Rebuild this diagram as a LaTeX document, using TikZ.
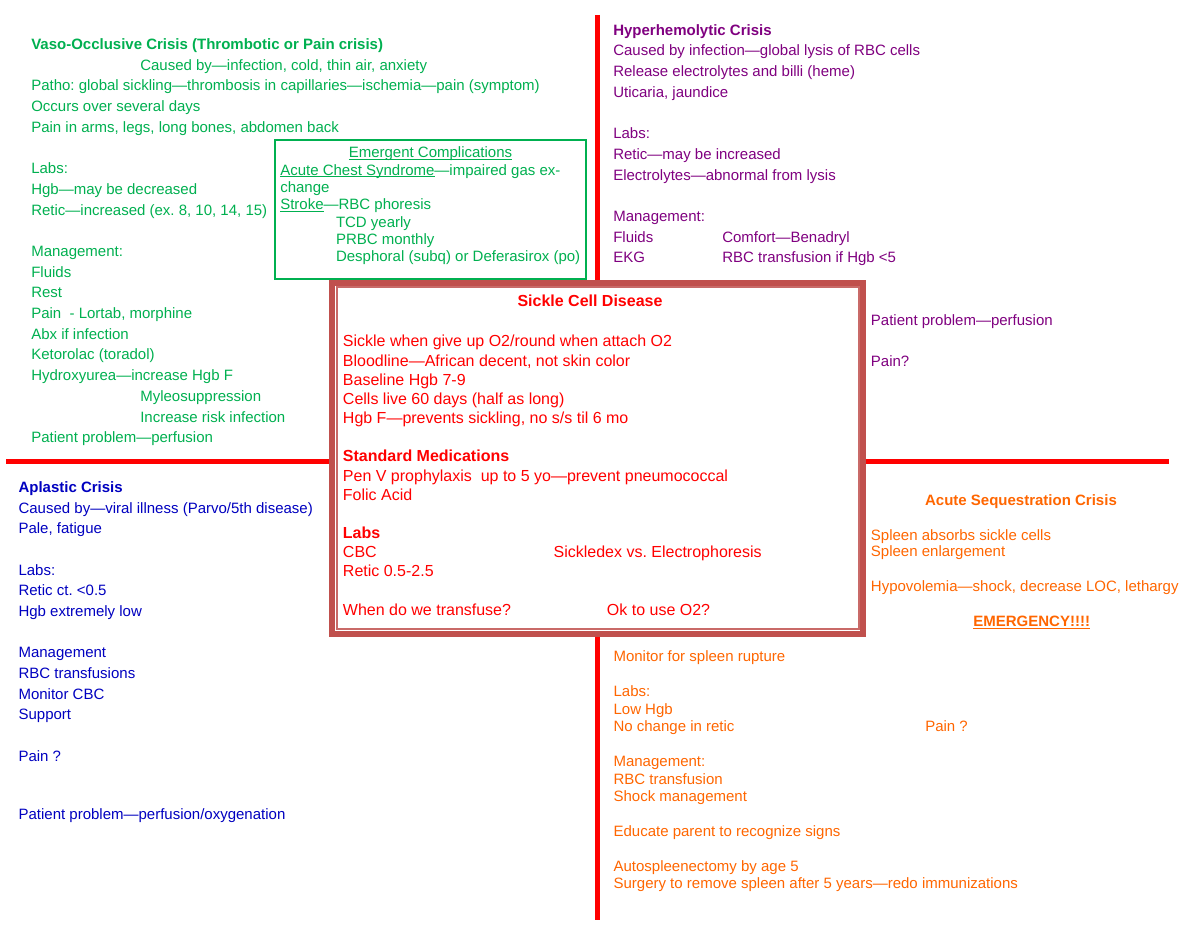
\documentclass[tikz,border=0pt]{standalone}
\usepackage{fontspec}
\setmainfont{Liberation Sans}
\frenchspacing
\definecolor{VasoGreen}{HTML}{00B050}
\definecolor{HemoPurple}{HTML}{800080}
\definecolor{AplasticBlue}{HTML}{0000C0}
\definecolor{SeqOrange}{HTML}{FF6600}
\definecolor{CoreRed}{HTML}{FF0000}
\definecolor{FrameRed}{HTML}{C0504D}

% first-line strut: node top sits 10pt above the first baseline
\newcommand{\fstrut}{\rule{0pt}{10pt}}
\newcommand{\ulined}[1]{\setbox0\hbox{#1}\rlap{\rule[-1.6pt]{\wd0}{0.8pt}}\box0}

\begin{document}
\begin{tikzpicture}[
  x=0.75pt, y=-0.75pt,
  line cap=butt, line join=miter,
  blk/.style={anchor=north west, inner sep=0pt, align=left, yshift=10pt},
  hdr/.style={anchor=base, inner sep=0pt},
  txt/.style={font=\fontsize{11.25}{#1}\selectfont},
  big/.style={font=\fontsize{12}{#1}\selectfont}
]

% Background / page frame
\useasboundingbox (0,0) rectangle (1200,927);
\fill[white] (0,0) rectangle (1200,927);

% === Quadrant dividers ===
\coordinate (vtop) at (597.5,15);
\coordinate (vbot) at (597.5,920);
\coordinate (hleft) at (6,461.7);
\coordinate (hright) at (1169,461.7);
\draw[CoreRed, line width=3.4pt] (vtop) -- (vbot);
\draw[CoreRed, line width=3.4pt] (hleft) -- (hright);

% === Top left: vaso-occlusive crisis ===
\node[blk, txt=15.52pt, text=VasoGreen] (vaso) at (31,49.3) {%
  \fstrut\textbf{Vaso-Occlusive Crisis (Thrombotic or Pain crisis)}\\
  \hspace*{81.75pt}Caused by—infection, cold, thin air, anxiety\\
  Patho: global sickling—thrombosis in capillaries—ischemia—pain (symptom)\\
  Occurs over several days\\
  Pain in arms, legs, long bones, abdomen back\\[15.52pt]
  Labs:\\
  Hgb—may be decreased\\
  Retic—increased (ex. 8, 10, 14, 15)\\[15.52pt]
  Management:\\
  Fluids\\
  Rest\\
  Pain\ \ - Lortab, morphine\\
  Abx if infection\\
  Ketorolac (toradol)\\
  Hydroxyurea—increase Hgb F\\
  \hspace*{81.75pt}Myleosuppression\\
  \hspace*{81.75pt}Increase risk infection\\
  Patient problem—perfusion};

% Emergent complications box
\fill[white] (275,140) rectangle (586,279);
\draw[VasoGreen, line width=1.9pt] (275,140) rectangle (586,279);
\node[hdr, txt=12.98pt, text=VasoGreen] (emerghd) at (430.5,157.7) {\ulined{Emergent Complications}};
\node[blk, txt=12.98pt, text=VasoGreen] (emerg) at (280,175) {%
  \fstrut\ulined{Acute Chest Syndrome}—impaired gas ex-\\
  change\\
  \ulined{Stroke}—RBC phoresis\\
  \hspace*{41.8pt}TCD yearly\\
  \hspace*{41.8pt}PRBC monthly\\
  \hspace*{41.8pt}Desphoral (subq) or Deferasirox (po)};

% === Top right: hyperhemolytic crisis ===
\node[blk, txt=15.52pt, text=HemoPurple] (hemo) at (613,35) {%
  \fstrut\textbf{Hyperhemolytic Crisis}\\
  Caused by infection—global lysis of RBC cells\\
  Release electrolytes and billi (heme)\\
  Uticaria, jaundice\\[15.52pt]
  Labs:\\
  Retic—may be increased\\
  Electrolytes—abnormal from lysis\\[15.52pt]
  Management:\\
  \makebox[81.75pt][l]{Fluids}Comfort—Benadryl\\
  \makebox[81.75pt][l]{EKG}RBC transfusion if Hgb <5};
\node[blk, txt=15.52pt, text=HemoPurple] (hemonote) at (870.7,325) {%
  \fstrut Patient problem—perfusion\\[15.52pt]
  Pain?};

% === Bottom left: aplastic crisis ===
\node[blk, txt=15.49pt, text=AplasticBlue] (aplastic) at (18.3,492.3) {%
  \fstrut\textbf{Aplastic Crisis}\\
  Caused by—viral illness (Parvo/5th disease)\\
  Pale, fatigue\\[15.49pt]
  Labs:\\
  Retic ct. <0.5\\
  Hgb extremely low\\[15.49pt]
  Management\\
  RBC transfusions\\
  Monitor CBC\\
  Support\\[15.49pt]
  Pain ?\\[28.2pt]
  Patient problem—perfusion/oxygenation};

% === Bottom right: acute sequestration crisis ===
\node[hdr, txt=13.1pt, text=SeqOrange] (seqhd) at (1021,505) {\textbf{Acute Sequestration Crisis}};
\node[blk, font=\fontsize{11.25}{12}\selectfont, text=SeqOrange] (seq) at (870.7,540.7) {%
  \fstrut Spleen absorbs sickle cells\\
  Spleen enlargement\\[14.25pt]
  Hypovolemia—shock, decrease LOC, lethargy};
\node[hdr, txt=13.1pt, text=SeqOrange] (emergency) at (1031.7,626.7) {\textbf{\ulined{EMERGENCY!!!!}}};
\node[blk, txt=13.09pt, text=SeqOrange] (seqcare) at (613.3,661.7) {%
  \fstrut Monitor for spleen rupture\\[13.09pt]
  Labs:\\
  Low Hgb\\
  \makebox[233.8pt][l]{No change in retic}Pain ?\\[13.09pt]
  Management:\\
  RBC transfusion\\
  Shock management\\[13.09pt]
  Educate parent to recognize signs\\[13.09pt]
  Autospleenectomy by age 5\\
  Surgery to remove spleen after 5 years—redo immunizations};

% === Centre: sickle cell disease ===
\fill[white] (329,280) rectangle (866,637);
\draw[FrameRed, line width=4.5pt] (332,283) rectangle (863,634);
\draw[FrameRed!85, line width=1.5pt] (337,287.5) rectangle (859,629);
\node[hdr, big=14.37pt, text=CoreRed] (scdhd) at (590,306.7) {\textbf{Sickle Cell Disease}};
\node[blk, big=14.37pt, text=CoreRed] (scd) at (342.7,346.7) {%
  \fstrut Sickle when give up O2/round when attach O2\\
  Bloodline—African decent, not skin color\\
  Baseline Hgb 7-9\\
  Cells live 60 days (half as long)\\
  Hgb F—prevents sickling, no s/s til 6 mo\\[14.37pt]
  \textbf{Standard Medications}\\
  Pen V prophylaxis\ \ up to 5 yo—prevent pneumococcal\\
  Folic Acid\\[14.37pt]
  \textbf{Labs}\\
  \makebox[158pt][l]{CBC}Sickledex vs. Electrophoresis\\
  Retic 0.5-2.5\\[14.37pt]
  \makebox[198pt][l]{When do we transfuse?}Ok to use O2?};

\end{tikzpicture}
\end{document}
